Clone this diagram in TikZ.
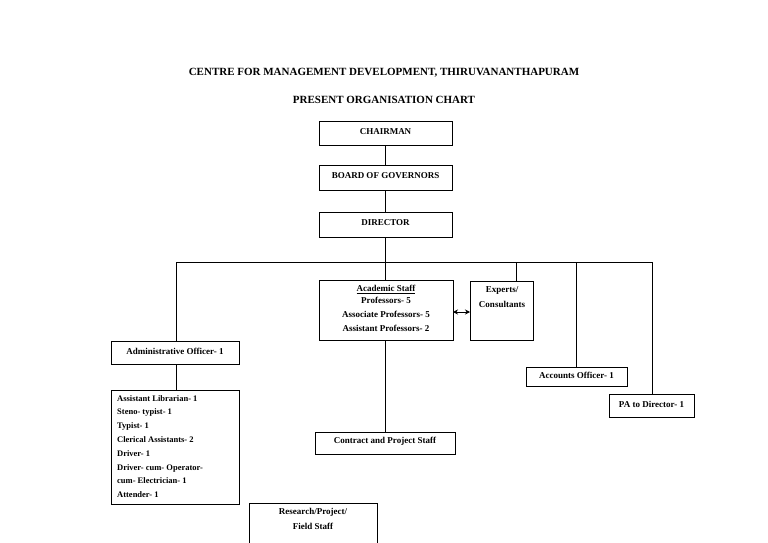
\documentclass[tikz,border=0pt]{standalone}
\usepackage{fontspec}
\setmainfont{Liberation Serif}
\usetikzlibrary{arrows.meta}
\begin{document}
\begin{tikzpicture}[x=1pt,y=-1pt,
  box/.style={draw,line width=0.8pt},
  conn/.style={line width=0.8pt},
  lbl/.style={font=\bfseries\fontsize{9}{11}\selectfont,inner sep=0pt,yshift=1.5pt},
  mlbl/.style={font=\bfseries\fontsize{9}{11}\selectfont,inner sep=0pt,align=center},
  ttl/.style={font=\bfseries\fontsize{11}{13}\selectfont,inner sep=0pt}]
\useasboundingbox (0,0) rectangle (768,543);
\fill[white] (0,0) rectangle (768,543);
% titles
\node[ttl] (t1) at (384,73) {CENTRE FOR MANAGEMENT DEVELOPMENT, THIRUVANANTHAPURAM};
\node[ttl] (t2) at (384,100) {PRESENT ORGANISATION CHART};
% boxes
\draw[box] (319,121) rectangle (452,145) node[midway,lbl] (chair) {CHAIRMAN};
\draw[box] (319,165) rectangle (452,190) node[midway,lbl] (bog) {BOARD OF GOVERNORS};
\draw[box] (319,212) rectangle (452,237) node[midway,lbl] (dir) {DIRECTOR};
\draw[box] (319,280) rectangle (453,340);
\node[mlbl] (acad) at (386,308.5) {\underline{Academic Staff}\\[1pt]Professors- 5\\[3pt]Associate Professors- 5\\[3pt]Assistant Professors- 2};
\draw[box] (470,281) rectangle (533,340);
\node[mlbl] (exp) at (502,297) {Experts/\\[4pt]Consultants};
\draw[box] (111,341) rectangle (239,364) node[midway,lbl] (adm) {Administrative Officer- 1};
\draw[box] (111,390) rectangle (239,504);
\node[align=left,anchor=north west,inner sep=0pt,font=\bfseries\fontsize{8.5}{13.8}\selectfont] (list) at (117,395) {Assistant Librarian- 1\\Steno- typist- 1\\Typist- 1\\Clerical Assistants- 2\\Driver- 1\\Driver- cum- Operator-\\cum- Electrician- 1\\Attender- 1};
\draw[box] (526,367) rectangle (627,386) node[midway,lbl] (acc) {Accounts Officer- 1};
\draw[box] (609,394) rectangle (694,417) node[midway,lbl] (pa) {PA to Director- 1};
\draw[box] (315,432) rectangle (455,454) node[midway,lbl] (cps) {Contract and Project Staff};
\draw[box] (249,545) -- (249,503) -- (377,503) -- (377,545);
\node[mlbl] (res) at (313,518.5) {Research/Project/\\[4pt]Field Staff};
% connectors
\draw[conn] (385,145) -- (385,165);
\draw[conn] (385,190) -- (385,212);
\draw[conn] (385,237) -- (385,262);
\draw[conn] (176,341) -- (176,262) -- (652,262) -- (652,394);
\draw[conn] (385,262) -- (385,280);
\draw[conn] (516,262) -- (516,281);
\draw[conn] (576,262) -- (576,367);
\draw[conn] (176,364) -- (176,390);
\draw[conn] (385,340) -- (385,432);
\draw[conn,{Stealth[length=5pt,width=5pt]}-{Stealth[length=5pt,width=5pt]}] (453,312) -- (470,312);
\end{tikzpicture}
\end{document}
